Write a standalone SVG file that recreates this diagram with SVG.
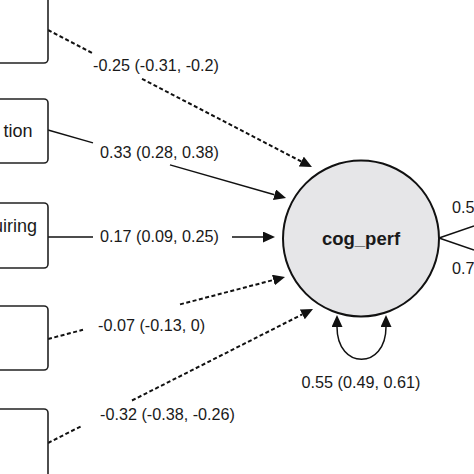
<svg xmlns="http://www.w3.org/2000/svg" width="474" height="474" viewBox="0 0 474 474">
<style>
text{font-family:"Liberation Sans",Arial,sans-serif;font-size:16.2px;fill:#1a1a1a}
.bt{font-size:18px}
.box{fill:#fff;stroke:#222;stroke-width:1.6}
.ln{stroke:#111;stroke-width:1.5;fill:none}
.dash{stroke:#111;stroke-width:2;fill:none;stroke-dasharray:4 2.5}
</style>
<defs>
<marker id="ah" markerUnits="userSpaceOnUse" markerWidth="12" markerHeight="11" refX="0" refY="5.5" orient="auto-start-reverse" viewBox="0 0 12 11">
<path d="M0,0 L12,5.5 L0,11 z" fill="#111"/>
</marker>
</defs>
<rect width="474" height="474" fill="#fff"/>
<g id="connectors">
<path class="dash" d="M48,30 L93,53.4"/>
<path class="dash" d="M142,78.8 L301.3,161.5" marker-end="url(#ah)"/>
<path class="ln" d="M48,130 L93,142.9"/>
<path class="ln" d="M170,164.9 L274.5,194.7" marker-end="url(#ah)"/>
<path class="ln" d="M48,237 L93,237"/>
<path class="ln" d="M232,237 L263,237" marker-end="url(#ah)"/>
<path class="dash" d="M48,339 L83,329.8"/>
<path class="dash" d="M180,304.4 L273.4,280" marker-end="url(#ah)"/>
<path class="dash" d="M48,443 L81,426.3"/>
<path class="dash" d="M132,400.5 L302.3,314.4" marker-end="url(#ah)"/>
<path class="ln" d="M337,327 C337,370 386,370 386,327" marker-start="url(#ah)" marker-end="url(#ah)"/>
<path class="ln" d="M439,238 L474,226"/>
<path class="ln" d="M439,238 L474,250"/>
<text x="93" y="71">-0.25 (-0.31, -0.2)</text>
<text x="100" y="158">0.33 (0.28, 0.38)</text>
<text x="100" y="242">0.17 (0.09, 0.25)</text>
<text x="98" y="331">-0.07 (-0.13, 0)</text>
<text x="100" y="420">-0.32 (-0.38, -0.26)</text>
<text x="361" y="388" text-anchor="middle">0.55 (0.49, 0.61)</text>
<text x="452" y="213">0.5</text>
<text x="452" y="274">0.7</text>
</g>
<g id="node1"><rect class="box" x="-20" y="-4" width="68" height="67" rx="4"/></g>
<g id="node2"><rect class="box" x="-20" y="99" width="68" height="64" rx="4"/><text class="bt" x="32.5" y="137" text-anchor="end">tion</text></g>
<g id="node3"><rect class="box" x="-20" y="203" width="68" height="65" rx="4"/><text class="bt" x="37" y="232" text-anchor="end">uiring</text></g>
<g id="node4"><rect class="box" x="-20" y="306" width="68" height="64" rx="4"/></g>
<g id="node5"><rect class="box" x="-20" y="409" width="68" height="70" rx="4"/></g>
<g id="cog_perf">
<circle cx="361" cy="238.5" r="78" fill="#e6e6e8" stroke="#111" stroke-width="2"/>
<text x="361" y="245" text-anchor="middle" font-weight="bold" style="font-size:18.5px">cog_perf</text>
</g>
</svg>
